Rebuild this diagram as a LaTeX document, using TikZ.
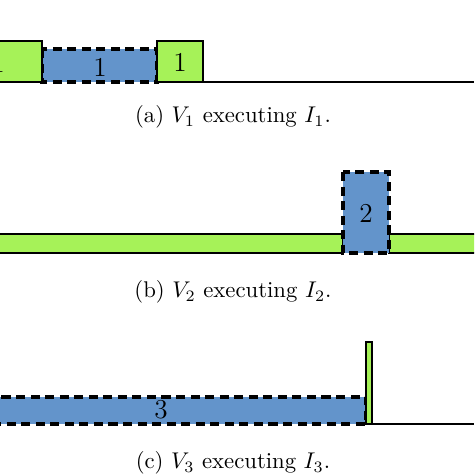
\documentclass[tikz,border=0pt]{standalone}
\usepackage{amsmath}
\definecolor{gfill}{RGB}{166,242,88}
\definecolor{bfill}{RGB}{99,148,203}
\begin{document}
\begin{tikzpicture}[x=0.44pt,y=-0.44pt,
  greenbox/.style={fill=gfill,draw=black,line width=0.55pt},
  bluebox/.style={fill=bfill,draw=black,line width=1.5pt,dash pattern=on 4pt off 2.4pt},
  baseline line/.style={draw=black,line width=0.45pt},
  lbl/.style={inner sep=0pt,font=\large},
  captext/.style={inner sep=0pt,font=\normalsize}]
\useasboundingbox (0,0) rectangle (474,474);
\begin{scope}
\clip (0,0) rectangle (474,474);
% panel (a)
\draw[bluebox] (42,49) rectangle (157,82);
\draw[greenbox] (-40,41) rectangle (42,82);
\draw[greenbox] (157,41) rectangle (203,82);
\draw[baseline line] (203,82) -- (474,82);
\node[lbl] (a0) at (-2,63) {1};
\node[lbl] (a1) at (100,67) {1};
\node[lbl] (a2) at (180,62) {1};
\node[captext] (capa) at (233,117) {(a) $V_1$ executing $I_1$.};
% panel (b)
\draw[greenbox] (-5,234) rectangle (343,253);
\draw[greenbox] (389,234) rectangle (480,253);
\draw[bluebox] (343,172) rectangle (389,253);
\node[lbl] (b1) at (366,213) {2};
\node[captext] (capb) at (233,292) {(b) $V_2$ executing $I_2$.};
% panel (c)
\draw[bluebox] (-10,397) rectangle (366,424);
\draw[greenbox] (366,342) rectangle (372,424);
\draw[baseline line] (372,424) -- (474,424);
\node[lbl] (c1) at (161,410) {3};
\node[captext] (capc) at (233,463) {(c) $V_3$ executing $I_3$.};
\end{scope}
\end{tikzpicture}
\end{document}
